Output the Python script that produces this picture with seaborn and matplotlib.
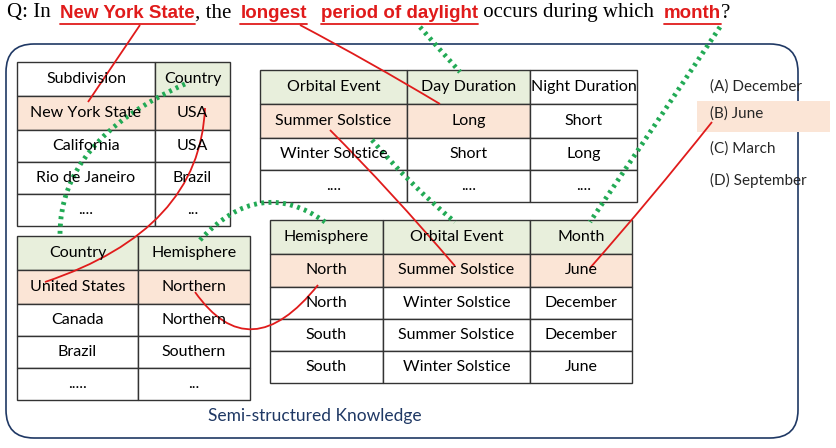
import matplotlib
matplotlib.use("Agg")
import matplotlib.pyplot as plt
import seaborn as sns
from matplotlib.patches import FancyBboxPatch, Rectangle, PathPatch
from matplotlib.path import Path

sns.set_theme(style="white")
plt.rcParams['font.family'] = ['Lato', 'DejaVu Sans']

GREEN = "#e8efdc"
ORANGE = "#fbe5d6"
RED = "#e01b1b"
DOTG = "#22aa55"
NAVY = "#1f3864"

# tables: header, rows
t1_cols = ["Subdivision", "Country"]
t1_rows = [["New York State", "USA"], ["California", "USA"], ["Rio de Janeiro", "Brazil"], ["....", "..."]]
t2_cols = ["Orbital Event", "Day Duration", "Night Duration"]
t2_rows = [["Summer Solstice", "Long", "Short"], ["Winter Solstice", "Short", "Long"], ["....", "....", "...."]]
t3_cols = ["Country", "Hemisphere"]
t3_rows = [["United States", "Northern"], ["Canada", "Northern"], ["Brazil", "Southern"], [".....", "..."]]
t4_cols = ["Hemisphere", "Orbital Event", "Month"]
t4_rows = [["North", "Summer Solstice", "June"], ["North", "Winter Solstice", "December"],
           ["South", "Summer Solstice", "December"], ["South", "Winter Solstice", "June"]]
options = ["(A) December", "(B) June", "(C) March", "(D) September"]
question = [("Q: In ", False), ("New York State", True), (", the ", False), ("longest", True),
            ("  ", False), ("period of daylight", True), (" occurs during which ", False),
            ("month", True), ("?", False)]

fig = plt.figure(figsize=(8.36, 4.48), dpi=100)
ax = fig.add_axes([0, 0, 1, 1])
ax.set_xlim(0, 836)
ax.set_ylim(448, 0)
ax.axis("off")

ax.add_patch(FancyBboxPatch((6, 44), 792, 394, boxstyle="round,pad=0,rounding_size=28",
                            fc="none", ec=NAVY, lw=1.2))
ax.text(315, 416, "Semi-structured Knowledge", color=NAVY, fontsize=12.5, ha="center", va="center")


def table(cols, rows, xs, ys, head_fill, row_fill):
    allrows = [cols] + rows
    for r, row in enumerate(allrows):
        for c, txt in enumerate(row):
            fill = "white"
            if r == 0 and head_fill[c]:
                fill = GREEN
            if r == 1 and row_fill[c]:
                fill = ORANGE
            ax.add_patch(Rectangle((xs[c], ys[r]), xs[c + 1] - xs[c], ys[r + 1] - ys[r],
                                   fc=fill, ec="#333333", lw=1))
            ax.text((xs[c] + xs[c + 1]) / 2, (ys[r] + ys[r + 1]) / 2, txt,
                    ha="center", va="center", fontsize=11.5, color="black")


table(t1_cols, t1_rows, [17, 155, 230], [62, 96, 130, 162, 194, 226], [0, 1], [1, 1])
table(t2_cols, t2_rows, [260, 407, 530, 637], [70, 104, 138, 170, 202], [1, 1, 0], [1, 1, 0])
table(t3_cols, t3_rows, [17, 138, 250], [236, 270, 304, 336, 368, 400], [1, 1], [1, 1])
table(t4_cols, t4_rows, [270, 383, 530, 632], [220, 254, 287, 319, 351, 383], [1, 1, 1], [1, 1, 1])

ax.add_patch(Rectangle((697, 101), 133, 31, fc=ORANGE, ec="none"))
for i, opt in enumerate(options):
    ax.text(710, [87, 114, 149, 180][i], opt, fontsize=11, va="center", ha="left")

# question line, laid out piece by piece
fig.canvas.draw()
r = fig.canvas.get_renderer()
x = 7
for txt, hl in question:
    if hl:
        t = ax.text(x, 13, txt, fontsize=13.5, color=RED, fontweight="bold",
                    family=["Liberation Sans"], va="center", ha="left")
    else:
        t = ax.text(x, 13, txt, fontsize=15, color="black",
                    family=["Liberation Serif"], va="center", ha="left")
    bb = t.get_window_extent(r).transformed(ax.transData.inverted())
    if hl:
        ax.plot([bb.x0, bb.x1], [24, 24], color=RED, lw=1.3)
    x = bb.x1 + (4 if txt.endswith(" ") else 0)


def curve(p0, p1, p2, color, dotted):
    path = Path([p0, p1, p2], [Path.MOVETO, Path.CURVE3, Path.CURVE3])
    ax.add_patch(PathPatch(path, fc="none", ec=color,
                           lw=3.5 if dotted else 1.3,
                           ls=(0, (0.6, 0.9)) if dotted else "-"))


curve((140, 25), (115, 62), (88, 102), RED, False)
curve((300, 25), (370, 62), (440, 104), RED, False)
curve((420, 27), (440, 50), (460, 72), DOTG, True)
curve((720, 27), (655, 125), (590, 222), DOTG, True)
curve((185, 84), (60, 140), (60, 234), DOTG, True)
curve((205, 108), (200, 230), (45, 282), RED, False)
curve((200, 240), (260, 175), (325, 222), DOTG, True)
curve((195, 292), (250, 370), (318, 285), RED, False)
curve((330, 130), (390, 190), (455, 266), RED, False)
curve((372, 140), (410, 185), (455, 222), DOTG, True)
curve((712, 122), (650, 200), (590, 268), RED, False)

fig.savefig("out.png", dpi=100)
